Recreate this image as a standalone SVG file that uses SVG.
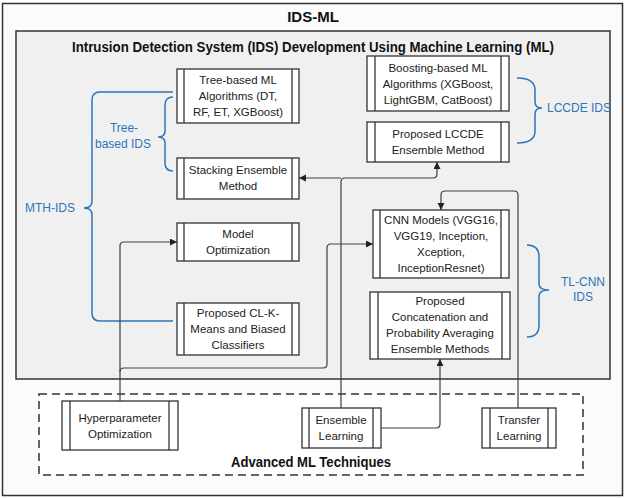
<svg xmlns="http://www.w3.org/2000/svg" width="626" height="498" viewBox="0 0 626 498">
<defs>
<style>
.frame{fill:#fbfbfb;stroke:#333;stroke-width:1.5}
.inner{fill:#f0f0f0;stroke:#333;stroke-width:1.5}
.dash{fill:#fff;stroke:#333;stroke-width:1.5;stroke-dasharray:8,5}
.box{fill:#fff;stroke:#333;stroke-width:1.3}
.bar{stroke:#333;stroke-width:1.3}
.t{font-family:"Liberation Sans",Arial,sans-serif;font-size:11.5px;fill:#222;text-anchor:middle}
.title{font-family:"Liberation Sans",Arial,sans-serif;font-weight:bold;fill:#111;text-anchor:middle}
.lbl{font-family:"Liberation Sans",Arial,sans-serif;font-size:12px;fill:#2e75b6;text-anchor:middle}
.brace{fill:none;stroke:#2e75b6;stroke-width:1.5}
.conn{fill:none;stroke:#404040;stroke-width:1.2}
</style>
<marker id="arr" markerUnits="userSpaceOnUse" markerWidth="8" markerHeight="8" refX="7" refY="3.5" orient="auto">
<path d="M0,0 L7,3.5 L0,7 z" fill="#222"/>
</marker>
</defs>

<rect class="frame" x="2.5" y="3.5" width="620" height="492"/>
<text class="title" x="313" y="22" font-size="15">IDS-ML</text>
<rect class="inner" x="16" y="31" width="594" height="348"/>
<text class="title" x="313" y="52" font-size="14" textLength="482" lengthAdjust="spacingAndGlyphs">Intrusion Detection System (IDS) Development Using Machine Learning (ML)</text>
<rect class="dash" x="39" y="394" width="544" height="81"/>
<text class="title" x="311" y="467" font-size="14" textLength="160" lengthAdjust="spacingAndGlyphs">Advanced ML Techniques</text>

<g id="braces">
<path class="brace" d="M173,92 H100 Q92,92 92,100 V201 Q92,208 84,208 Q92,208 92,215 V313 Q92,321 100,321 H173"/>
<text class="lbl" x="50" y="212">MTH-IDS</text>
<path class="brace" d="M173,97 Q165,97 165,105 V131 Q165,137 158,137 Q165,137 165,143 V163 Q165,171 173,171"/>
<text class="lbl" x="124" y="132">Tree-</text>
<text class="lbl" x="123" y="148">based IDS</text>
<path class="brace" d="M517,78 Q535,78 535,90 V102 Q535,108 542,108 Q535,108 535,114 V131 Q535,143 517,143"/>
<text class="lbl" x="579" y="112">LCCDE IDS</text>
<path class="brace" d="M527,245 Q539,245 539,257 V284 Q539,290 549,290 Q539,290 539,296 V325 Q539,337 527,337"/>
<text class="lbl" x="583" y="286">TL-CNN</text>
<text class="lbl" x="583" y="301">IDS</text>
</g>

<g id="n-tree">
<rect class="box" x="177" y="69" width="122" height="54"/>
<line class="bar" x1="184" y1="69" x2="184" y2="123"/><line class="bar" x1="292" y1="69" x2="292" y2="123"/>
<text class="t" x="238" y="84">Tree-based ML</text>
<text class="t" x="238" y="100">Algorithms (DT,</text>
<text class="t" x="238" y="116">RF, ET, XGBoost)</text>
</g>
<g id="n-stacking">
<rect class="box" x="177" y="158" width="122" height="41"/>
<line class="bar" x1="184" y1="158" x2="184" y2="199"/><line class="bar" x1="292" y1="158" x2="292" y2="199"/>
<text class="t" x="238" y="174">Stacking Ensemble</text>
<text class="t" x="238" y="190">Method</text>
</g>
<g id="n-modelopt">
<rect class="box" x="177" y="223" width="122" height="38"/>
<line class="bar" x1="184" y1="223" x2="184" y2="261"/><line class="bar" x1="292" y1="223" x2="292" y2="261"/>
<text class="t" x="238" y="238">Model</text>
<text class="t" x="238" y="254">Optimization</text>
</g>
<g id="n-clkmeans">
<rect class="box" x="177" y="303" width="122" height="52"/>
<line class="bar" x1="184" y1="303" x2="184" y2="355"/><line class="bar" x1="292" y1="303" x2="292" y2="355"/>
<text class="t" x="238" y="317">Proposed CL-K-</text>
<text class="t" x="238" y="333">Means and Biased</text>
<text class="t" x="238" y="349">Classifiers</text>
</g>
<g id="n-boosting">
<rect class="box" x="367" y="56" width="142" height="55"/>
<line class="bar" x1="375" y1="56" x2="375" y2="111"/><line class="bar" x1="501" y1="56" x2="501" y2="111"/>
<text class="t" x="438" y="72">Boosting-based ML</text>
<text class="t" x="438" y="88">Algorithms (XGBoost,</text>
<text class="t" x="438" y="104">LightGBM, CatBoost)</text>
</g>
<g id="n-lccde">
<rect class="box" x="367" y="122" width="142" height="40"/>
<line class="bar" x1="375" y1="122" x2="375" y2="162"/><line class="bar" x1="501" y1="122" x2="501" y2="162"/>
<text class="t" x="438" y="138">Proposed LCCDE</text>
<text class="t" x="438" y="154">Ensemble Method</text>
</g>
<g id="n-cnn">
<rect class="box" x="373" y="210" width="136" height="68"/>
<line class="bar" x1="380" y1="210" x2="380" y2="278"/><line class="bar" x1="501" y1="210" x2="501" y2="278"/>
<text class="t" x="441" y="224">CNN Models (VGG16,</text>
<text class="t" x="441" y="240">VGG19, Inception,</text>
<text class="t" x="441" y="256">Xception,</text>
<text class="t" x="441" y="272">InceptionResnet)</text>
</g>
<g id="n-concat">
<rect class="box" x="370" y="292" width="140" height="67"/>
<line class="bar" x1="378" y1="292" x2="378" y2="359"/><line class="bar" x1="502" y1="292" x2="502" y2="359"/>
<text class="t" x="440" y="305">Proposed</text>
<text class="t" x="440" y="321">Concatenation and</text>
<text class="t" x="440" y="337">Probability Averaging</text>
<text class="t" x="440" y="353">Ensemble Methods</text>
</g>
<g id="n-hyper">
<rect class="box" x="62" y="401" width="116" height="49"/>
<line class="bar" x1="70" y1="401" x2="70" y2="450"/><line class="bar" x1="169" y1="401" x2="169" y2="450"/>
<text class="t" x="120" y="422">Hyperparameter</text>
<text class="t" x="120" y="438">Optimization</text>
</g>
<g id="n-ensemble">
<rect class="box" x="302" y="408" width="79" height="40"/>
<line class="bar" x1="309" y1="408" x2="309" y2="448"/><line class="bar" x1="373" y1="408" x2="373" y2="448"/>
<text class="t" x="341" y="424">Ensemble</text>
<text class="t" x="341" y="440">Learning</text>
</g>
<g id="n-transfer">
<rect class="box" x="482" y="408" width="74" height="40"/>
<line class="bar" x1="490" y1="408" x2="490" y2="448"/><line class="bar" x1="548" y1="408" x2="548" y2="448"/>
<text class="t" x="519" y="424">Transfer</text>
<text class="t" x="519" y="440">Learning</text>
</g>

<g id="connectors">
<path class="conn" d="M120,401 V246 Q120,242 124,242 H177" marker-end="url(#arr)"/>
<path class="conn" d="M120,372 Q120,368 124,368 H323 Q327,368 327,364 V248 Q327,244 331,244 H373" marker-end="url(#arr)"/>
<path class="conn" d="M341,408 V182 Q341,178 345,178 H433 Q437,178 437,174 V162" marker-end="url(#arr)"/>
<path class="conn" d="M341,178 H299" marker-end="url(#arr)"/>
<path class="conn" d="M381,428 H436 Q440,428 440,424 V359" marker-end="url(#arr)"/>
<path class="conn" d="M518,408 V195 Q518,191 514,191 H445 Q441,191 441,195 V210" marker-end="url(#arr)"/>
</g>
</svg>
